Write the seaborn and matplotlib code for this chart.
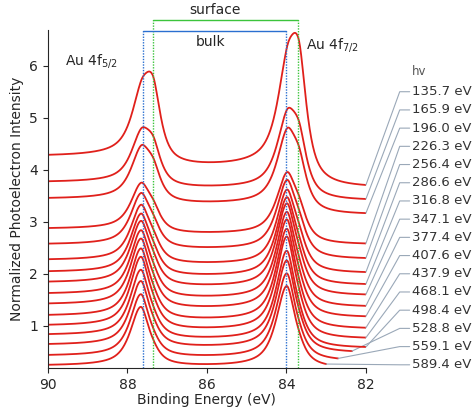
import numpy as np
import matplotlib.pyplot as plt
import seaborn as sns

sns.set_style("ticks")
plt.rcParams['font.family'] = ['DejaVu Sans']

# photon energies, bottom to top
hv = [589.4, 559.1, 528.8, 498.4, 468.1, 437.9, 407.6, 377.4,
      347.1, 316.8, 286.6, 256.4, 226.3, 196.0, 165.9, 135.7]
# spectrum level at 90 eV
base_left = [0.25, 0.44, 0.65, 0.84, 1.02, 1.21, 1.43, 1.63,
             1.85, 2.05, 2.28, 2.58, 2.88, 3.46, 3.78, 4.29]
# Au 4f5/2 peak maximum
peak52 = [1.38, 1.63, 1.89, 2.12, 2.37, 2.53, 2.72, 2.88,
          3.06, 3.20, 3.37, 3.60, 3.80, 4.53, 4.88, 6.02]
# background drop from high to low binding energy
bg_drop = [0.05, 0.1, 0.15, 0.25, 0.25, 0.25, 0.25, 0.25,
           0.25, 0.25, 0.25, 0.28, 0.3, 0.3, 0.35, 0.6]
surf_frac = [0.12, 0.13, 0.14, 0.15, 0.16, 0.17, 0.18, 0.2,
             0.22, 0.24, 0.27, 0.3, 0.35, 0.45, 0.52, 0.65]
# 4f7/2 : 4f5/2 intensity ratio
ratio72 = [1.38] * 13 + [1.45, 1.5, 1.62]
end_be = [83.0, 82.7, 82.35] + [82.0] * 13

bulk_be = (87.67, 84.0)
surf_be = (87.37, 83.70)
ticks_y = [1, 2, 3, 4, 5, 6]


def voigt(x, c):
    # slightly asymmetric line, longer tail towards higher binding energy
    w = np.where(x > c, 0.31, 0.24)
    return 0.8 / (1 + ((x - c) / w) ** 2) + 0.2 * np.exp(-((x - c) / (1.2 * w)) ** 2)


fig = plt.figure(figsize=(4.74, 4.2), dpi=100)
ax = fig.add_axes([0.101, 0.124, 0.671, 0.805])

label_y = np.linspace(0.25, 5.5, len(hv))
for i, e in enumerate(hv):
    x = np.linspace(90, end_be[i], 600)
    b = base_left[i]
    br = b - bg_drop[i]
    sf = surf_frac[i]
    shape = lambda xx, k: (1 - sf) * voigt(xx, bulk_be[k]) + sf * voigt(xx, surf_be[k])
    tail = voigt(90.0, 87.6) + ratio72[i] * voigt(90.0, 84.0)
    h5 = (peak52[i] - b) / max(shape(np.linspace(87, 88, 200), 0))
    h7 = h5 * ratio72[i]
    step = 0.35 / (1 + np.exp(-(x - 87.5) / 0.25)) + 0.65 / (1 + np.exp(-(x - 83.85) / 0.25))
    bg = br + (b - br) * step - h5 * tail
    y = bg + h5 * shape(x, 0) + h7 * shape(x, 1)
    ax.plot(x, y, color='#e0201b', lw=1.3)
    # connector to label
    ax.plot([end_be[i], 81.15, 80.9], [y[-1], label_y[i], label_y[i]],
            color='#9aa8b8', lw=0.8, clip_on=False)
    ax.text(80.85, label_y[i], f"{e} eV", va='center', ha='left',
            fontsize=9.5, color='#333333', clip_on=False)

ax.text(80.85, 5.88, "hv", va='center', fontsize=8.5, color='#555555')

# bulk / surface markers
ax.plot([87.6, 87.6], [0.19, 6.67], color='#2a6fd0', lw=1.0, ls=(0, (1, 1)), clip_on=False)
ax.plot([84.0, 84.0], [0.19, 6.67], color='#2a6fd0', lw=1.0, ls=(0, (1, 1)), clip_on=False)
ax.plot([87.35, 87.35], [0.19, 6.88], color='#3cc43c', lw=1.0, ls=(0, (1, 1)), clip_on=False)
ax.plot([83.7, 83.7], [0.19, 6.88], color='#3cc43c', lw=1.0, ls=(0, (1, 1)), clip_on=False)
ax.plot([87.35, 83.7], [6.88, 6.88], color='#3cc43c', lw=1.0, clip_on=False)
ax.plot([87.6, 84.0], [6.67, 6.67], color='#2a6fd0', lw=1.0, clip_on=False)
ax.text(85.8, 7.08, "surface", ha='center', va='center', fontsize=10, clip_on=False)
ax.text(85.9, 6.45, "bulk", ha='center', va='center', fontsize=10)
ax.text(88.9, 6.1, r"Au 4f$_{5/2}$", ha='center', va='center', fontsize=10)
ax.text(82.85, 6.4, r"Au 4f$_{7/2}$", ha='center', va='center', fontsize=10)

ax.set_xlim(90, 82)
ax.set_ylim(0.19, 6.69)
ax.set_xticks([90, 88, 86, 84, 82])
ax.set_yticks(ticks_y)
ax.tick_params(labelsize=10)
ax.set_xlabel("Binding Energy (eV)", fontsize=10, labelpad=1)
ax.set_ylabel("Normalized Photoelectron Intensity", fontsize=10)
sns.despine(ax=ax)

fig.savefig("out.png", dpi=100)
